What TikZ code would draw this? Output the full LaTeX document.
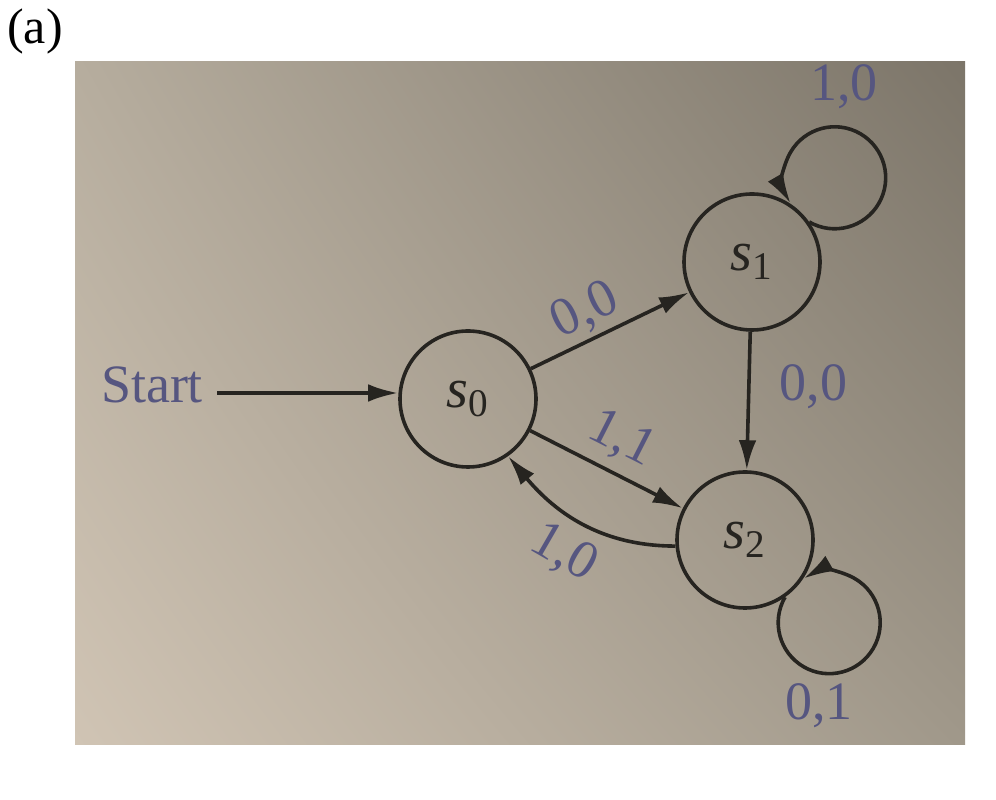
\documentclass[tikz,border=0pt]{standalone}
\usepackage{fontspec}
\setmainfont{Liberation Serif}
\usepackage{xcolor}
\usepackage{tikz}
\usetikzlibrary{positioning,calc,arrows.meta,shadings}

\definecolor{inkdark}{RGB}{38,36,32}
\definecolor{inkblue}{RGB}{86,86,128}
\definecolor{paperA}{RGB}{182,173,158}
\definecolor{paperB}{RGB}{124,117,105}
\definecolor{paperC}{RGB}{208,196,180}
\definecolor{paperD}{RGB}{160,152,138}

\newcommand{\stname}[1]{{\itshape s}\textsubscript{#1}}

\tikzset{
  state/.style={circle, draw=inkdark, line width=0.9pt, minimum size=34pt, inner sep=0pt,
    text=inkdark, font=\fontsize{14}{16}\selectfont},
  edge/.style={draw=inkdark, line width=0.9pt, -{Latex[length=7.5pt,width=4.4pt]}},
  lbl/.style={text=inkblue, font=\fontsize{13.5}{16}\selectfont}
}

\begin{document}
\begin{tikzpicture}[x=0.25pt, y=-0.25pt]
    \useasboundingbox (0,0) rectangle (996,800);
    \fill[white] (0,0) rectangle (996,800);

    % Photo of the page
    \shade[upper left=paperA, upper right=paperB, lower left=paperC, lower right=paperD]
        (75,62) rectangle (965,745);
    \node[font=\fontsize{12.5}{15}\selectfont] (tag) at (35,31) {(a)};

    % States
    \node[state] (s0) at (468,399) {\stname{0}};
    \node[state] (s1) at (752,262) {\stname{1}};
    \node[state] (s2) at (745,540) {\stname{2}};

    % Start arrow
    \node[lbl, text depth=4.4pt] (start) at (152,393) {Start};
    \draw[edge] (start) -- (start -| s0.west);

    % Transitions
    \draw[edge] (s0) -- node[lbl, pos=0.42, sloped, above, inner sep=1pt] {0,0} (s1);
    \draw[edge] (s0) -- node[lbl, sloped, above, inner sep=2.5pt] {1,1} (s2);
    \draw[edge] (s1) -- node[lbl, pos=0.4, right=4pt] {0,0} (s2);
    \draw[edge] (s2.185) to[out=180, in=-50] node[lbl, sloped, below, inner sep=3pt] {1,0} (s0.-55);

    % Self loops
    \draw[edge] (s1.35) arc[start angle=120, end angle=-210, radius=51];
    \node[lbl] (loop1) at (844,87) {1,0};
    \draw[edge] (s2.-55) arc[start angle=-150, end angle=-480, radius=51];
    \node[lbl] (loop2) at (819,706) {0,1};
\end{tikzpicture}
\end{document}
